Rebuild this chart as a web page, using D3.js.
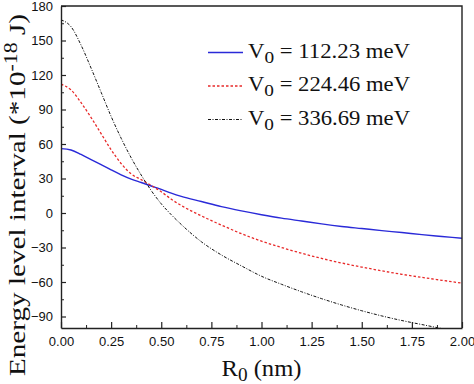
<!DOCTYPE html>
<html><head><meta charset="utf-8">
<script src="https://cdn.jsdelivr.net/npm/d3@7"></script>
<style>body{margin:0;background:#fff}svg{display:block}</style>
</head><body><svg id="c" width="474" height="384"></svg>
<script>
const xValues = [0,0.05,0.1,0.15,0.2,0.25,0.3,0.35,0.4,0.45,0.5,0.55,0.6,0.7,0.8,0.9,1.0,1.1,1.2,1.3,1.4,1.5,1.6,1.7,1.8,1.9,2.0];
const blueValues = [56,54.8,51,46.5,42,37.5,33.2,29.5,26.5,23.5,20.5,17.3,14.5,10,5.5,1.8,-1.5,-4.5,-7,-9.5,-11.7,-13.5,-15.3,-17,-18.8,-20.4,-22];
const redValues = [112,107,96,83,69,55,43,34,29,24,18.5,12,6.5,-2.5,-10.5,-18,-24.5,-30,-35,-39.5,-43.5,-47,-50.3,-53.3,-56,-58.5,-61];
const blackValues = [168,162,146,126,105,84,65,48,33,19.5,8,-1.5,-10,-25,-36.5,-46,-55,-62,-68.5,-74.5,-80,-85,-89.5,-93.5,-97,-100.5,-104];
const seriesLabels = ["112.23 meV","224.46 meV","336.69 meV"];
const xTicks = [0,0.25,0.5,0.75,1.0,1.25,1.5,1.75,2.0];
const yTicks = [-90,-60,-30,0,30,60,90,120,150,180];

const svg = d3.select("#c");
const L=61, R=462, T=6, B=328;
const x = d3.scaleLinear().domain([0,2]).range([L,R]);
const y = d3.scaleLinear().domain([-100,180]).range([B,T]);

const series = [
  {vals: blueValues, color:"#2a2ad8", dash:null, w:1.4, label: seriesLabels[0]},
  {vals: redValues, color:"#e82a2a", dash:"2.5,2", w:1.3, label: seriesLabels[1]},
  {vals: blackValues, color:"#111", dash:"3,1.5,1,1.5", w:1, label: seriesLabels[2]}
];

svg.append("defs").append("clipPath").attr("id","clip")
  .append("rect").attr("x",L).attr("y",T).attr("width",R-L).attr("height",B-T);

const line = d3.line().x(d=>x(d[0])).y(d=>y(d[1])).curve(d3.curveMonotoneX);
const g = svg.append("g").attr("clip-path","url(#clip)");
series.forEach(s=>{
  g.append("path").datum(xValues.map((xv,i)=>[xv,s.vals[i]]))
    .attr("d",line).attr("fill","none").attr("stroke",s.color)
    .attr("stroke-width",s.w).attr("stroke-dasharray",s.dash);
});

// minor ticks
const xMinor = d3.range(0.125,2,0.25);
const yMinor = d3.range(-75,180,30);
svg.append("g").attr("transform",`translate(0,${B})`)
  .call(d3.axisBottom(x).tickValues(xMinor).tickSize(-3).tickFormat(""))
  .call(g=>g.select(".domain").remove());
svg.append("g").attr("transform",`translate(${L},0)`)
  .call(d3.axisLeft(y).tickValues(yMinor).tickSize(-3).tickFormat(""))
  .call(g=>g.select(".domain").remove());

const xa = svg.append("g").attr("transform",`translate(0,${B})`)
  .call(d3.axisBottom(x).tickValues(xTicks).tickSizeInner(-6).tickSizeOuter(0).tickPadding(9).tickFormat(d3.format(".2f")));
const ya = svg.append("g").attr("transform",`translate(${L},0)`)
  .call(d3.axisLeft(y).tickValues(yTicks).tickSizeInner(-5).tickSizeOuter(0).tickPadding(8));
[xa,ya].forEach(a=>{
  a.selectAll("text").attr("font-family","Liberation Sans, Arial, sans-serif").attr("font-size",13).attr("fill","#111");
  a.selectAll("line").attr("stroke","#222").attr("stroke-width",1.2);
  a.select(".domain").attr("stroke","#222").attr("stroke-width",1.4);
});
svg.selectAll("g line").attr("stroke","#222");

// frame top/right
svg.append("path").attr("d",`M${L},${T}H${R}V${B}`).attr("fill","none").attr("stroke","#222").attr("stroke-width",1.4);

// x title
const xt = svg.append("text").attr("x",(L+R)/2).attr("y",376).attr("text-anchor","middle")
  .attr("font-family","Liberation Serif, Times New Roman, serif").attr("font-size",23).attr("fill","#111")
  .attr("textLength",80).attr("lengthAdjust","spacingAndGlyphs");
xt.append("tspan").text("R");
xt.append("tspan").attr("font-size",18).attr("dy",5).text("0");
xt.append("tspan").attr("dy",-5).text(" (nm)");

// y title
const yt = svg.append("text").attr("transform","translate(25,195) rotate(-90)").attr("text-anchor","middle")
  .attr("font-family","Liberation Serif, Times New Roman, serif").attr("font-size",24).attr("fill","#111")
  .attr("textLength",362).attr("lengthAdjust","spacingAndGlyphs");
yt.append("tspan").text("Energy level interval (*10");
yt.append("tspan").attr("font-size",18).attr("dy",-8).text("-18");
yt.append("tspan").attr("dy",8).text(" J)");

// legend
const legY = [52.5, 86, 119.5];
series.forEach((s,i)=>{
  svg.append("line").attr("x1",208).attr("x2",243).attr("y1",legY[i]).attr("y2",legY[i])
    .attr("stroke",s.color).attr("stroke-width",s.w).attr("stroke-dasharray",s.dash);
  const t = svg.append("text").attr("x",248).attr("y",legY[i]+5)
    .attr("font-family","Liberation Serif, Times New Roman, serif").attr("font-size",20).attr("fill","#111")
    .attr("textLength",162).attr("lengthAdjust","spacingAndGlyphs");
  t.append("tspan").text("V");
  t.append("tspan").attr("font-size",17).attr("dy",5).text("0");
  t.append("tspan").attr("dy",-5).text(" = " + s.label);
});
</script></body></html>
